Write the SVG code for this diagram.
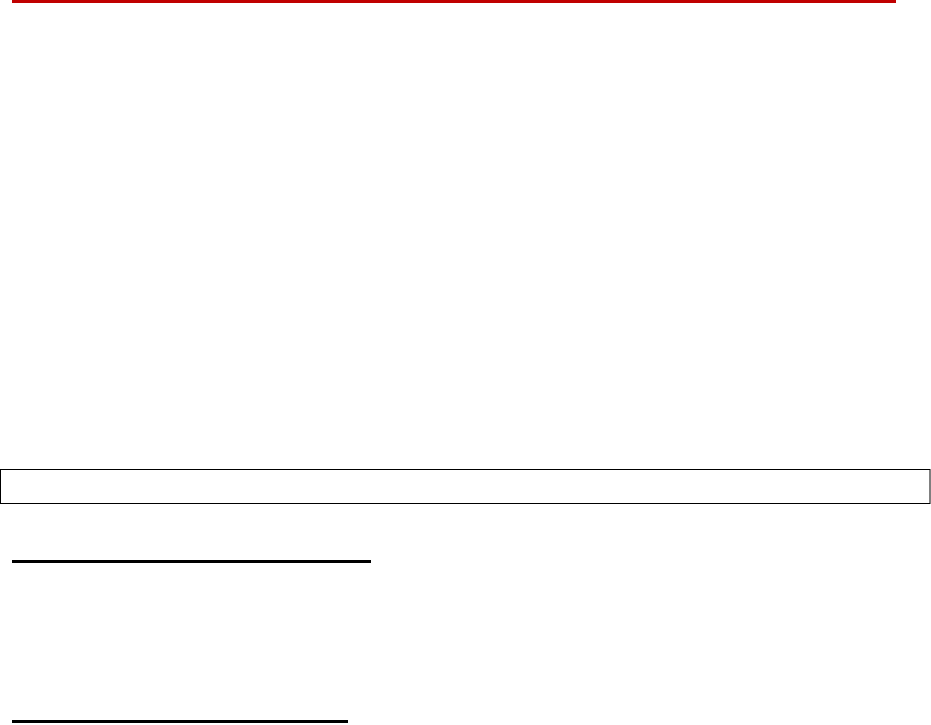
<svg xmlns="http://www.w3.org/2000/svg" width="931" height="725" viewBox="0 0 931 725">
<style>.u{stroke:#000;stroke-width:3}</style>
<rect width="931" height="725" fill="#fff"/>
<g id="header"><line x1="12" y1="1.5" x2="896" y2="1.5" stroke="#c00000" stroke-width="3"/></g>
<g id="box"><rect x="0.5" y="469.5" width="929.5" height="34" fill="none" stroke="#000" stroke-width="1"/></g>
<g id="rule1"><line class="u" x1="12" y1="561.5" x2="371" y2="561.5"/></g>
<g id="rule2"><line class="u" x1="12" y1="721.5" x2="348" y2="721.5"/></g>
<g id="connectors"/>
</svg>
